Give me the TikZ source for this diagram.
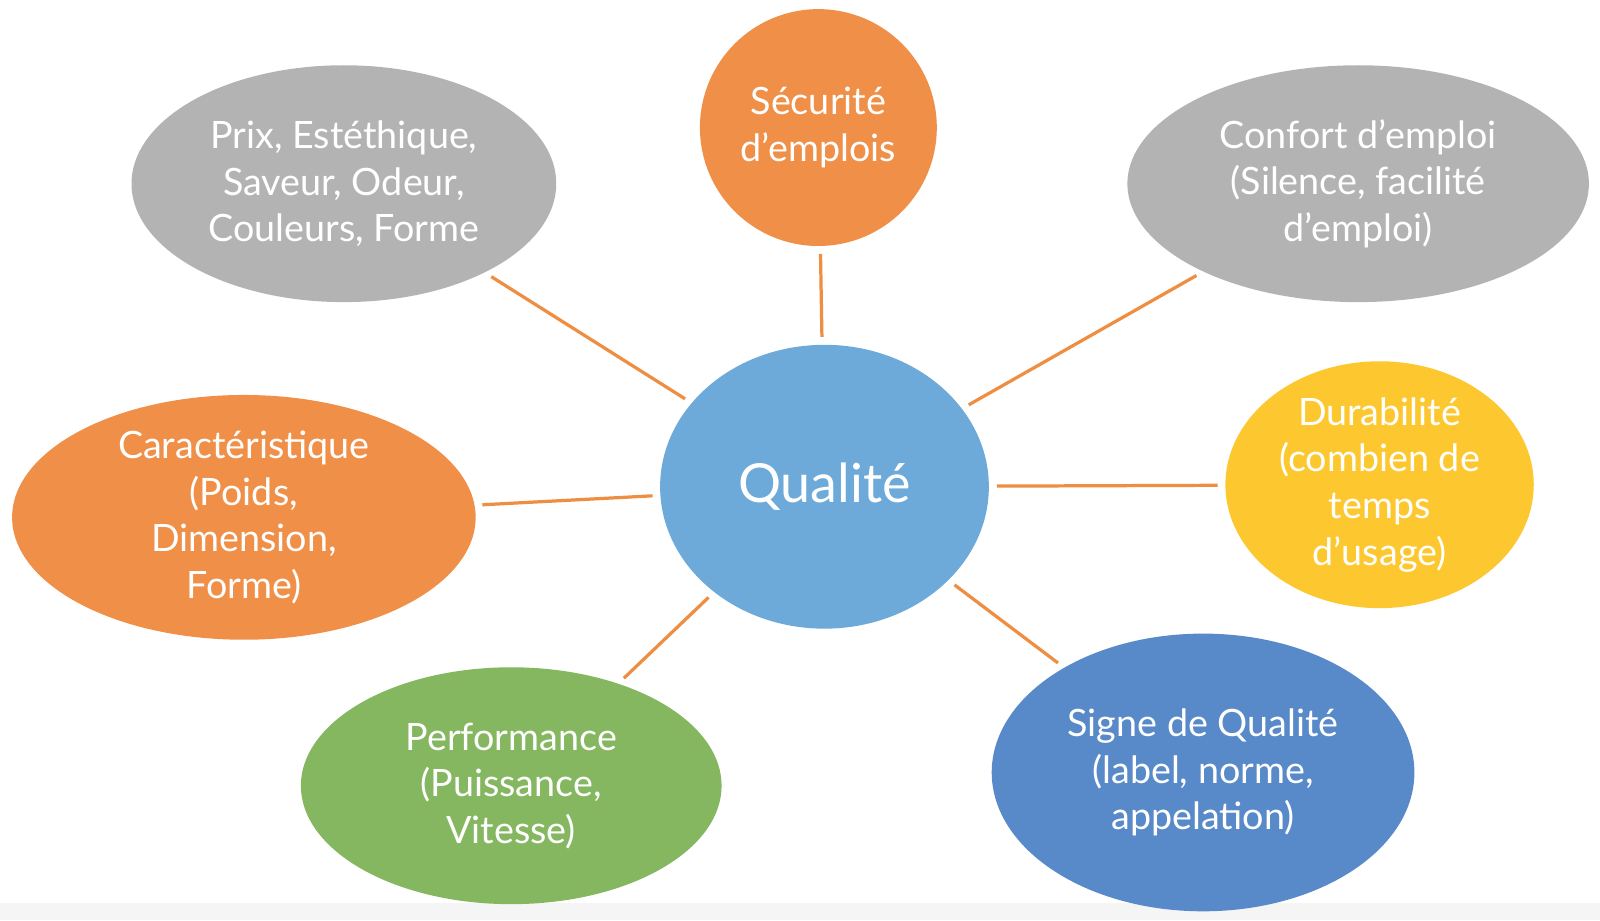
\documentclass[tikz,border=0pt]{standalone}
\usepackage{fontspec}
\setmainfont{Lato}
\usetikzlibrary{shapes.geometric}
\definecolor{cgray}{HTML}{B3B3B3}
\definecolor{corange}{HTML}{EF8F48}
\definecolor{cyellow}{HTML}{FDC82F}
\definecolor{cblue}{HTML}{5889C9}
\definecolor{clblue}{HTML}{6DAAD9}
\definecolor{cgreen}{HTML}{84B760}
\definecolor{cline}{HTML}{EE8E42}
\tikzset{
 bub/.style={ellipse,inner sep=0pt,text=white,align=center,font=\fontsize{10.5pt}{13pt}\selectfont},
 link/.style={draw=cline,line width=0.9pt,shorten <=2pt,shorten >=2pt}
}
\begin{document}
\begin{tikzpicture}[x=0.01cm,y=-0.01cm]
\useasboundingbox (0,0) rectangle (1568,902);
\fill[white] (0,0) rectangle (1568,902);
\fill[black!4] (0,885) rectangle (1568,902);
\node[bub,fill=clblue,minimum width=322\pgflinewidth*0+3.22cm,minimum height=2.78cm,font=\fontsize{15pt}{18pt}\selectfont] (q) at (808,477) {Qualité};
\node[bub,fill=cgray,minimum width=4.16cm,minimum height=2.32cm] (p) at (337,180) {Prix, Estéthique,\\Saveur, Odeur,\\Couleurs, Forme};
\node[bub,fill=corange,minimum width=2.32cm,minimum height=2.32cm] (s) at (802,125) {Sécurité\\d'emplois};
\node[bub,fill=cgray,minimum width=4.52cm,minimum height=2.32cm] (c) at (1331,180) {Confort d'emploi\\(Silence, facilité\\d'emploi)};
\node[bub,fill=cyellow,minimum width=3.02cm,minimum height=2.32cm] (d) at (1352,475) {Durabilité\\(combien de\\temps\\d'usage)};
\node[bub,fill=cblue,minimum width=4.14cm,minimum height=2.72cm] (g) at (1179,757) {Signe de Qualité\\(label, norme,\\appelation)};
\node[bub,fill=cgreen,minimum width=4.12cm,minimum height=2.32cm] (f) at (501,770) {Performance\\(Puissance,\\Vitesse)};
\node[bub,fill=corange,minimum width=4.54cm,minimum height=2.32cm] (k) at (239,507) {Caractéristique\\(Poids,\\Dimension,\\Forme)};
\draw[link] (q) -- (p);
\draw[link] (q) -- (s);
\draw[link] (q) -- (c);
\draw[link] (q) -- (d);
\draw[link] (q) -- (g);
\draw[link] (q) -- (f);
\draw[link] (q) -- (k);
\end{tikzpicture}
\end{document}
